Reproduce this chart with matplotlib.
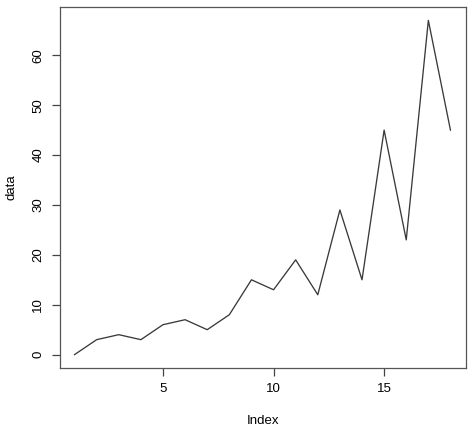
import matplotlib
matplotlib.use("Agg")
import matplotlib.pyplot as plt

index = list(range(1, 19))
data = [0, 3, 4, 3, 6, 7, 5, 8, 15, 13, 19, 12, 29, 15, 45, 23, 67, 45]
xticks = [5, 10, 15]
yticks = [0, 10, 20, 30, 40, 50, 60]

plt.rcParams['font.family'] = ['Liberation Sans', 'DejaVu Sans']
fig = plt.figure(figsize=(4.74, 4.28), dpi=100)
ax = fig.add_axes([59.5/474, 60/428, 406/474, 361/428])
ax.plot(index, data, color='#3a3a3a', lw=0.95)
ax.set_xlim(0.32, 18.68)
ax.set_ylim(-2.68, 69.68)
ax.set_xticks(xticks)
ax.set_yticks(yticks)
ax.tick_params(direction='out', length=6, width=0.9, color='#444444', labelsize=9.5, pad=5)
for lab in ax.get_yticklabels():
    lab.set_rotation(90)
    lab.set_va('center')
for s in ax.spines.values():
    s.set_color('#555555')
    s.set_linewidth(0.9)
ax.set_xlabel('Index', fontsize=9.5, labelpad=14.5)
ax.set_ylabel('data', fontsize=9.5, labelpad=10.5)
fig.savefig('out.png', dpi=100)
